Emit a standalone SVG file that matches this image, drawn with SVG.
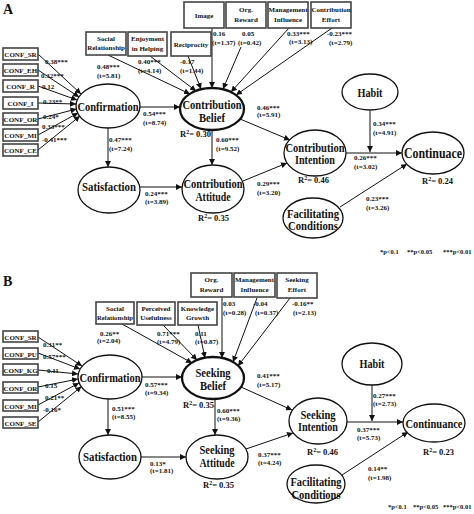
<svg xmlns="http://www.w3.org/2000/svg" width="474" height="514" viewBox="0 0 474 514">
<style>
text{font-family:"Liberation Serif","Times New Roman",serif;font-weight:bold;fill:#111}
.n{font-size:13.5px;text-anchor:middle}
.c{font-size:7px}
.g{font-size:6.5px}
.b{font-size:7px;text-anchor:middle}
.k{font-size:7px;text-anchor:middle}
.r{font-size:8.5px}
.p{font-size:14px}
.e{fill:#fff;stroke:#111;stroke-width:1.3}
.t{fill:#fff;stroke:#111;stroke-width:2.3}
.x{fill:#fff;stroke:#444;stroke-width:1.6}
.l{stroke:#111;stroke-width:1;fill:none;marker-end:url(#ah)}
</style>
<defs>
<marker id="ah" markerUnits="userSpaceOnUse" markerWidth="6" markerHeight="6" refX="6" refY="3" orient="auto">
<path d="M0,0 L6,3 L0,6 z" fill="#111"/>
</marker>
</defs>
<rect width="474" height="514" fill="#fff"/>
<text class="p" x="3" y="14">A</text>
<text class="p" x="3" y="286">B</text>

<g id="connectors">
<!-- Panel A -->
<line class="l" x1="38" y1="54" x2="81" y2="94"/>
<line class="l" x1="38" y1="70" x2="79" y2="97"/>
<line class="l" x1="38" y1="86" x2="77" y2="100"/>
<line class="l" x1="38" y1="103" x2="76" y2="104"/>
<line class="l" x1="38" y1="119" x2="76.5" y2="109"/>
<line class="l" x1="38" y1="135" x2="78" y2="113"/>
<line class="l" x1="38" y1="150" x2="80" y2="116"/>
<line class="l" x1="108" y1="55" x2="190" y2="94"/>
<line class="l" x1="150" y1="56" x2="196" y2="91"/>
<line class="l" x1="188" y1="56" x2="201" y2="89"/>
<line class="l" x1="212" y1="28" x2="212" y2="88"/>
<line class="l" x1="241" y1="47" x2="223" y2="89"/>
<line class="l" x1="289" y1="28" x2="231" y2="92"/>
<line class="l" x1="332" y1="28" x2="236" y2="95"/>
<line class="l" x1="140" y1="107" x2="180" y2="107"/>
<line class="l" x1="108" y1="128" x2="108" y2="167"/>
<line class="l" x1="212" y1="130" x2="212" y2="165"/>
<line class="l" x1="140" y1="187" x2="182" y2="187"/>
<line class="l" x1="240" y1="119" x2="290" y2="140"/>
<line class="l" x1="243" y1="181" x2="287" y2="163"/>
<line class="l" x1="370" y1="111" x2="370" y2="152"/>
<line class="l" x1="346" y1="153" x2="402" y2="153"/>
<line class="l" x1="340" y1="207" x2="407" y2="164"/>
<!-- Panel B -->
<line class="l" x1="38" y1="337" x2="82" y2="366"/>
<line class="l" x1="38" y1="353" x2="80" y2="369"/>
<line class="l" x1="38" y1="370" x2="78" y2="374"/>
<line class="l" x1="38" y1="387" x2="78" y2="379"/>
<line class="l" x1="38" y1="405" x2="79" y2="383"/>
<line class="l" x1="38" y1="422" x2="81.5" y2="386.5"/>
<line class="l" x1="122" y1="324" x2="192" y2="363"/>
<line class="l" x1="163" y1="325" x2="197" y2="360"/>
<line class="l" x1="198" y1="325" x2="205" y2="358"/>
<line class="l" x1="222" y1="297" x2="222" y2="358"/>
<line class="l" x1="257" y1="298" x2="233" y2="362"/>
<line class="l" x1="290" y1="298" x2="238" y2="366"/>
<line class="l" x1="142" y1="377" x2="182" y2="377"/>
<line class="l" x1="108" y1="399" x2="108" y2="435"/>
<line class="l" x1="215" y1="399" x2="215" y2="435"/>
<line class="l" x1="141" y1="457" x2="186" y2="457"/>
<line class="l" x1="241" y1="387" x2="292" y2="410"/>
<line class="l" x1="246" y1="449" x2="293" y2="433"/>
<line class="l" x1="372" y1="385" x2="372" y2="421"/>
<line class="l" x1="347" y1="422" x2="403" y2="422"/>
<line class="l" x1="342" y1="475" x2="408" y2="432"/>
</g>

<!-- Panel A nodes -->
<g id="confA_SR"><rect class="x" x="3" y="48" width="35" height="12"/><text class="k" x="20.5" y="57">CONF_SR</text></g>
<g id="confA_EH"><rect class="x" x="3" y="64" width="35" height="12"/><text class="k" x="20.5" y="73">CONF_EH</text></g>
<g id="confA_R"><rect class="x" x="3" y="80" width="35" height="12"/><text class="k" x="20.5" y="89">CONF_R</text></g>
<g id="confA_I"><rect class="x" x="3" y="97" width="35" height="12"/><text class="k" x="20.5" y="106">CONF_I</text></g>
<g id="confA_OR"><rect class="x" x="3" y="113" width="35" height="12"/><text class="k" x="20.5" y="122">CONF_OR</text></g>
<g id="confA_MI"><rect class="x" x="3" y="129" width="35" height="12"/><text class="k" x="20.5" y="138">CONF_MI</text></g>
<g id="confA_CE"><rect class="x" x="3" y="144" width="35" height="12"/><text class="k" x="20.5" y="153">CONF_CE</text></g>

<g id="socialA"><rect class="x" x="86" y="32" width="40" height="23"/><text class="b" x="106" y="41">Social</text><text class="b" x="106" y="50">Relationship</text></g>
<g id="enjoyA"><rect class="x" x="128" y="32" width="39" height="24"/><text class="b" x="147.5" y="41">Enjoyment</text><text class="b" x="147.5" y="51">in Helping</text></g>
<g id="recipA"><rect class="x" x="171" y="32" width="40" height="24"/><text class="b" x="191" y="47">Reciprocity</text></g>
<g id="imageA"><rect class="x" x="184" y="2" width="40" height="26"/><text class="b" x="204" y="18">Image</text></g>
<g id="orgA"><rect class="x" x="226" y="2" width="40" height="26"/><text class="b" x="246" y="12">Org.</text><text class="b" x="246" y="22">Reward</text></g>
<g id="mgmtA"><rect class="x" x="268" y="2" width="40" height="26"/><text class="b" x="288" y="12" textLength="39" lengthAdjust="spacingAndGlyphs">Management</text><text class="b" x="288" y="22">Influence</text></g>
<g id="effortA"><rect class="x" x="311" y="2" width="40" height="26"/><text class="b" x="331" y="12" textLength="39" lengthAdjust="spacingAndGlyphs">Contribution</text><text class="b" x="331" y="22">Effort</text></g>

<g id="confirmationA"><ellipse class="e" cx="108" cy="106" rx="32" ry="22"/><text class="n" x="108" y="111" textLength="61" lengthAdjust="spacingAndGlyphs">Confirmation</text></g>
<g id="satisfactionA"><ellipse class="e" cx="109" cy="190" rx="31" ry="23"/><text class="n" x="109" y="191" textLength="54" lengthAdjust="spacingAndGlyphs">Satisfaction</text></g>
<g id="beliefA"><ellipse class="t" cx="212" cy="109" rx="32" ry="21"/><text class="n" x="212" y="109" textLength="59" lengthAdjust="spacingAndGlyphs">Contribution</text><text class="n" x="212" y="122" textLength="26" lengthAdjust="spacingAndGlyphs">Belief</text></g>
<g id="attitudeA"><ellipse class="e" cx="213" cy="189" rx="31" ry="24"/><text class="n" x="213" y="188" textLength="59" lengthAdjust="spacingAndGlyphs">Contribution</text><text class="n" x="213" y="201" textLength="35" lengthAdjust="spacingAndGlyphs">Attitude</text></g>
<g id="intentionA"><ellipse class="e" cx="315" cy="153" rx="31" ry="23"/><text class="n" x="315" y="152" textLength="59" lengthAdjust="spacingAndGlyphs">Contribution</text><text class="n" x="315" y="164" textLength="40" lengthAdjust="spacingAndGlyphs">Intention</text></g>
<g id="habitA"><ellipse class="e" cx="370" cy="92" rx="28" ry="18"/><text class="n" x="370" y="97" textLength="25" lengthAdjust="spacingAndGlyphs">Habit</text></g>
<g id="continuanceA"><ellipse class="e" cx="433" cy="153" rx="31" ry="21"/><text class="n" x="433" y="158" style="font-size:14px" textLength="58" lengthAdjust="spacingAndGlyphs">Continuace</text></g>
<g id="facilitatingA"><ellipse class="e" cx="313" cy="218" rx="30" ry="20"/><text class="n" x="313" y="218" textLength="52" lengthAdjust="spacingAndGlyphs">Facilitating</text><text class="n" x="313" y="230" textLength="50" lengthAdjust="spacingAndGlyphs">Conditions</text></g>

<g id="labelsA">
<text class="c" x="45" y="64">0.38***</text>
<text class="c" x="41" y="78">0.32***</text>
<text class="c" x="42" y="89">0.12</text>
<text class="c" x="43" y="104">0.23**</text>
<text class="c" x="43" y="119">0.24*</text>
<text class="c" x="42" y="129">0.33***</text>
<text class="c" x="42" y="142">-0.41***</text>
<text class="c" x="97" y="69">0.48***</text><text class="c" x="97" y="78">(t=5.81)</text>
<text class="c" x="138" y="64">0.40***</text><text class="c" x="138" y="73">(t=4.14)</text>
<text class="c" x="180" y="64">-0.17</text><text class="c" x="180" y="73">(t=1.44)</text>
<text class="c" x="213" y="36">0.16</text><text class="c" x="212" y="45">(t=1.37)</text>
<text class="c" x="242" y="36">0.05</text><text class="c" x="238" y="45">(t=0.42)</text>
<text class="c" x="287" y="36">0.33***</text><text class="c" x="289" y="44">(t=3.13)</text>
<text class="c" x="327" y="36">-0.23***</text><text class="c" x="329" y="45">(t=2.79)</text>
<text class="c" x="143" y="116">0.54***</text><text class="c" x="143" y="125">(t=8.74)</text>
<text class="c" x="109" y="142">0.47***</text><text class="c" x="109" y="151">(t=7.24)</text>
<text class="c" x="216" y="142">0.60***</text><text class="c" x="216" y="151">(t=9.52)</text>
<text class="c" x="145" y="196">0.24***</text><text class="c" x="145" y="204">(t=3.89)</text>
<text class="c" x="257" y="110">0.46***</text><text class="c" x="257" y="117">(t=5.91)</text>
<text class="c" x="257" y="186">0.29***</text><text class="c" x="257" y="195">(t=3.20)</text>
<text class="c" x="373" y="126">0.34***</text><text class="c" x="373" y="135">(t=4.91)</text>
<text class="c" x="354" y="160">0.26***</text><text class="c" x="354" y="169">(t=3.02)</text>
<text class="c" x="366" y="201">0.23***</text><text class="c" x="366" y="210">(t=3.26)</text>
<text class="r" x="180" y="137">R<tspan font-size="6" baseline-shift="super">2</tspan>= 0.30</text>
<text class="r" x="198" y="221">R<tspan font-size="6" baseline-shift="super">2</tspan>= 0.35</text>
<text class="r" x="298" y="183">R<tspan font-size="6" baseline-shift="super">2</tspan>= 0.46</text>
<text class="r" x="422" y="184">R<tspan font-size="6" baseline-shift="super">2</tspan>= 0.24</text>
<text class="g" x="380" y="254">*p&lt;0.1</text><text class="g" x="407" y="254">**p&lt;0.05</text><text class="g" x="443" y="254">***p&lt;0.01</text>
</g>

<!-- Panel B nodes -->
<g id="confB_SR"><rect class="x" x="3" y="331" width="35" height="11"/><text class="k" x="20.5" y="339.5">CONF_SR</text></g>
<g id="confB_PU"><rect class="x" x="3" y="348" width="35" height="11"/><text class="k" x="20.5" y="356.5">CONF_PU</text></g>
<g id="confB_KG"><rect class="x" x="3" y="364" width="35" height="11"/><text class="k" x="20.5" y="372.5">CONF_KG</text></g>
<g id="confB_OR"><rect class="x" x="3" y="382" width="35" height="11"/><text class="k" x="20.5" y="390.5">CONF_OR</text></g>
<g id="confB_MI"><rect class="x" x="3" y="400" width="35" height="11"/><text class="k" x="20.5" y="408.5">CONF_MI</text></g>
<g id="confB_SE"><rect class="x" x="3" y="417" width="35" height="11"/><text class="k" x="20.5" y="425.5">CONF_SE</text></g>

<g id="socialB"><rect class="x" x="96" y="302" width="38" height="22"/><text class="b" x="115" y="311">Social</text><text class="b" x="115" y="320" textLength="36" lengthAdjust="spacingAndGlyphs">Relationship</text></g>
<g id="usefulB"><rect class="x" x="137" y="302" width="38" height="23"/><text class="b" x="156" y="311">Perceived</text><text class="b" x="156" y="320">Usefulness</text></g>
<g id="knowB"><rect class="x" x="178" y="302" width="39" height="23"/><text class="b" x="197.5" y="311">Knowledge</text><text class="b" x="197.5" y="320">Growth</text></g>
<g id="orgB"><rect class="x" x="191" y="273" width="41" height="24"/><text class="b" x="211.5" y="282">Org.</text><text class="b" x="211.5" y="292">Reward</text></g>
<g id="mgmtB"><rect class="x" x="234" y="273" width="41" height="24"/><text class="b" x="254.5" y="282" textLength="39" lengthAdjust="spacingAndGlyphs">Management</text><text class="b" x="254.5" y="292">Influence</text></g>
<g id="effortB"><rect class="x" x="277" y="273" width="40" height="25"/><text class="b" x="297" y="282">Seeking</text><text class="b" x="297" y="292">Effort</text></g>

<g id="confirmationB"><ellipse class="e" cx="110" cy="377" rx="32" ry="22"/><text class="n" x="110" y="382" textLength="61" lengthAdjust="spacingAndGlyphs">Confirmation</text></g>
<g id="satisfactionB"><ellipse class="e" cx="110" cy="457" rx="31" ry="22"/><text class="n" x="110" y="461" textLength="54" lengthAdjust="spacingAndGlyphs">Satisfaction</text></g>
<g id="beliefB"><ellipse class="t" cx="213" cy="378" rx="31" ry="21"/><text class="n" x="213" y="377" textLength="35" lengthAdjust="spacingAndGlyphs">Seeking</text><text class="n" x="213" y="390" textLength="26" lengthAdjust="spacingAndGlyphs">Belief</text></g>
<g id="attitudeB"><ellipse class="e" cx="217" cy="457" rx="31" ry="22"/><text class="n" x="217" y="454" textLength="35" lengthAdjust="spacingAndGlyphs">Seeking</text><text class="n" x="217" y="467" textLength="35" lengthAdjust="spacingAndGlyphs">Attitude</text></g>
<g id="intentionB"><ellipse class="e" cx="318" cy="421" rx="29" ry="23"/><text class="n" x="318" y="419" textLength="35" lengthAdjust="spacingAndGlyphs">Seeking</text><text class="n" x="318" y="431" textLength="40" lengthAdjust="spacingAndGlyphs">Intention</text></g>
<g id="habitB"><ellipse class="e" cx="372" cy="364" rx="30" ry="21"/><text class="n" x="372" y="368" textLength="25" lengthAdjust="spacingAndGlyphs">Habit</text></g>
<g id="continuanceB"><ellipse class="e" cx="434" cy="423" rx="31" ry="19"/><text class="n" x="434" y="428" style="font-size:13.5px" textLength="57" lengthAdjust="spacingAndGlyphs">Continuance</text></g>
<g id="facilitatingB"><ellipse class="e" cx="316" cy="484" rx="29" ry="19"/><text class="n" x="316" y="486" textLength="51" lengthAdjust="spacingAndGlyphs">Facilitating</text><text class="n" x="316" y="499" textLength="49" lengthAdjust="spacingAndGlyphs">Conditions</text></g>

<g id="labelsB">
<text class="c" x="43" y="347">0.31**</text>
<text class="c" x="43" y="359">0.57***</text>
<text class="c" x="47" y="373">0.11</text>
<text class="c" x="45" y="388">0.15</text>
<text class="c" x="45" y="400">0.21**</text>
<text class="c" x="43" y="412">-0.16*</text>
<text class="c" x="100" y="336">0.26**</text><text class="c" x="97" y="343">(t=2.04)</text>
<text class="c" x="157" y="336">0.71***</text><text class="c" x="157" y="344">(t=4.79)</text>
<text class="c" x="195" y="336">0.11</text><text class="c" x="195" y="344">(t=0.87)</text>
<text class="c" x="223" y="306">0.03</text><text class="c" x="223" y="315">(t=0.28)</text>
<text class="c" x="253" y="306">-0.04</text><text class="c" x="255" y="315">(t=0.37)</text>
<text class="c" x="292" y="306">-0.16**</text><text class="c" x="293" y="315">(t=2.13)</text>
<text class="c" x="145" y="387">0.57***</text><text class="c" x="145" y="395">(t=9.34)</text>
<text class="c" x="112" y="411">0.51***</text><text class="c" x="112" y="419">(t=8.55)</text>
<text class="c" x="217" y="413">0.60***</text><text class="c" x="217" y="421">(t=9.36)</text>
<text class="c" x="150" y="466">0.13*</text><text class="c" x="150" y="473">(t=1.81)</text>
<text class="c" x="257" y="378">0.41***</text><text class="c" x="257" y="387">(t=5.17)</text>
<text class="c" x="258" y="457">0.37***</text><text class="c" x="258" y="465">(t=4.24)</text>
<text class="c" x="373" y="398">0.27***</text><text class="c" x="373" y="406">(t=2.73)</text>
<text class="c" x="357" y="432">0.37***</text><text class="c" x="357" y="440">(t=5.73)</text>
<text class="c" x="368" y="471">0.14**</text><text class="c" x="368" y="480">(t=1.98)</text>
<text class="r" x="183" y="408">R<tspan font-size="6" baseline-shift="super">2</tspan>= 0.35</text>
<text class="r" x="203" y="488">R<tspan font-size="6" baseline-shift="super">2</tspan>= 0.35</text>
<text class="r" x="307" y="455">R<tspan font-size="6" baseline-shift="super">2</tspan>= 0.46</text>
<text class="r" x="423" y="455">R<tspan font-size="6" baseline-shift="super">2</tspan>= 0.23</text>
<text class="g" x="388" y="509">*p&lt;0.1</text><text class="g" x="413" y="509">**p&lt;0.05</text><text class="g" x="443" y="509">***p&lt;0.01</text>
</g>
</svg>
